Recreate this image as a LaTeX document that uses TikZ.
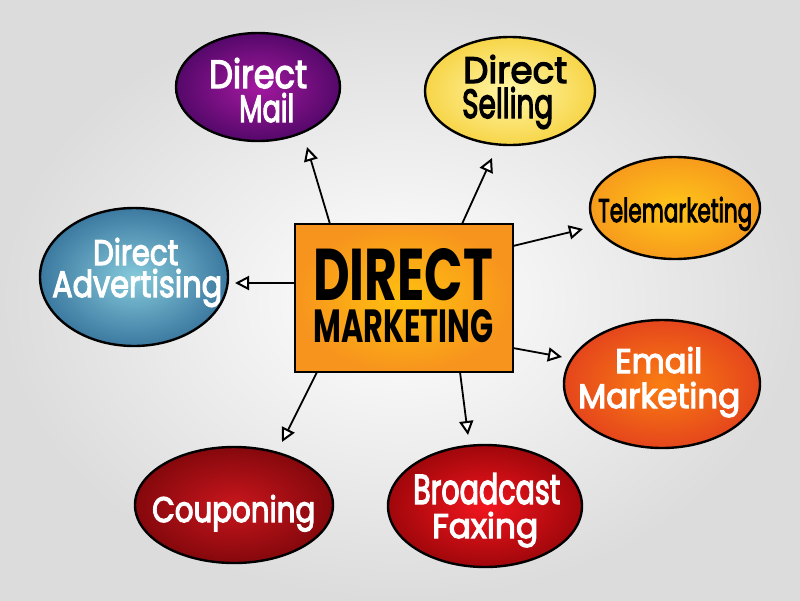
\documentclass[tikz,border=0pt]{standalone}
\usepackage{fontspec}
\setmainfont{Poppins}
\newfontfamily\medfont{Poppins}[FakeBold=3.5]
\usepackage{graphicx}
\usetikzlibrary{shapes.geometric,arrows.meta}
\definecolor{bggray}{HTML}{DCDCDC}
\definecolor{purpIn}{HTML}{A3199F}
\definecolor{purpOut}{HTML}{55086A}
\definecolor{yelIn}{HTML}{FFF6A8}
\definecolor{yelOut}{HTML}{F7D548}
\definecolor{teleIn}{HTML}{FFC61A}
\definecolor{teleOut}{HTML}{F79B1C}
\definecolor{bluIn}{HTML}{86CADB}
\definecolor{bluOut}{HTML}{3C79A0}
\definecolor{emIn}{HTML}{FA7E12}
\definecolor{emOut}{HTML}{E5461C}
\definecolor{coIn}{HTML}{C8161D}
\definecolor{coOut}{HTML}{85080C}
\definecolor{brIn}{HTML}{F2161E}
\definecolor{brOut}{HTML}{A0070B}
\definecolor{boxIn}{HTML}{FFC00F}
\definecolor{boxOut}{HTML}{F7941D}
\newcommand\fitt[3]{\resizebox{#1pt}{#2pt}{#3}}
\begin{document}
\begin{tikzpicture}[x=1pt,y=-1pt,
  bubble/.style={ellipse, draw=black, line width=2.4pt, inner sep=0pt},
  mainbox/.style={rectangle, draw=black, line width=2.4pt, inner sep=0pt,
    minimum width=218pt, minimum height=148pt, inner color=boxIn, outer color=boxOut},
  lbl/.style={anchor=base west, inner sep=0pt, font=\medfont},
  biglbl/.style={anchor=base west, inner sep=0pt, font=\bfseries},
  arr/.style={line width=1.8pt, -{Triangle[length=14pt,width=14pt,line width=2pt,fill=white]}}]
\useasboundingbox (0,0) rectangle (800,600);
\shade[inner color=white, outer color=bggray] (0,0) rectangle (800,600);

% central box
\node[mainbox] (c) at (404,298) {};
\node[biglbl] (t1) at (313,300) {\fitt{180}{52}{DIRECT}};
\node[biglbl] (t2) at (313,342) {\fitt{180}{33}{MARKETING}};

% bubbles
\node[bubble, minimum width=164pt, minimum height=108pt, inner color=purpIn, outer color=purpOut] (mail) at (258,87) {};
\node[bubble, minimum width=170pt, minimum height=108pt, inner color=yelIn, outer color=yelOut] (sell) at (510,91) {};
\node[bubble, minimum width=170pt, minimum height=102pt, inner color=teleIn, outer color=teleOut] (tele) at (675,208) {};
\node[bubble, minimum width=188pt, minimum height=138pt, inner color=bluIn, outer color=bluOut] (adv) at (134,277) {};
\node[bubble, minimum width=196pt, minimum height=128pt, inner color=emIn, outer color=emOut] (email) at (662,384) {};
\node[bubble, minimum width=198pt, minimum height=116pt, inner color=coIn, outer color=coOut] (coup) at (234,505) {};
\node[bubble, minimum width=194pt, minimum height=122pt, inner color=brIn, outer color=brOut] (fax) at (485,506) {};

% bubble texts
\node[lbl, text=white] (m1) at (209,88) {\fitt{98}{30}{Direct}};
\node[lbl, text=white] (m2) at (239,122) {\fitt{55}{29}{Mail}};
\node[lbl, text=black] (s1) at (463,83) {\fitt{104}{28}{Direct}};
\node[lbl, text=black] (s2) at (462,118) {\fitt{91}{31}{Selling}};
\node[lbl, text=black] (te) at (598,222) {\fitt{154}{25}{Telemarketing}};
\node[lbl, text=white] (a1) at (93,265) {\fitt{85}{27}{Direct}};
\node[lbl, text=white] (a2) at (52,297) {\fitt{170}{28}{Advertising}};
\node[lbl, text=white] (e1) at (615,373) {\fitt{87}{26}{Email}};
\node[lbl, text=white] (e2) at (578,408) {\fitt{162}{26}{Marketing}};
\node[lbl, text=white] (co) at (152,522) {\fitt{163}{27}{Couponing}};
\node[lbl, text=white] (b1) at (413,504) {\fitt{147}{31}{Broadcast}};
\node[lbl, text=white] (b2) at (432,538) {\fitt{106}{26}{Faxing}};

% connector end points
\coordinate (c1) at (330,224);
\coordinate (c2) at (462,224);
\coordinate (c3) at (513,246);
\coordinate (c4) at (295,283);
\coordinate (c5) at (513,348);
\coordinate (c6) at (317,372);
\coordinate (c7) at (460,372);
\coordinate (p1) at (307,147);
\coordinate (p2) at (492,158);
\coordinate (p3) at (583,229);
\coordinate (p4) at (235,283);
\coordinate (p5) at (562,357);
\coordinate (p6) at (282,442);
\coordinate (p7) at (468,435);

\draw[arr] (c1) -- (p1);
\draw[arr] (c2) -- (p2);
\draw[arr] (c3) -- (p3);
\draw[arr] (c4) -- (p4);
\draw[arr] (c5) -- (p5);
\draw[arr] (c6) -- (p6);
\draw[arr] (c7) -- (p7);
\end{tikzpicture}
\end{document}
